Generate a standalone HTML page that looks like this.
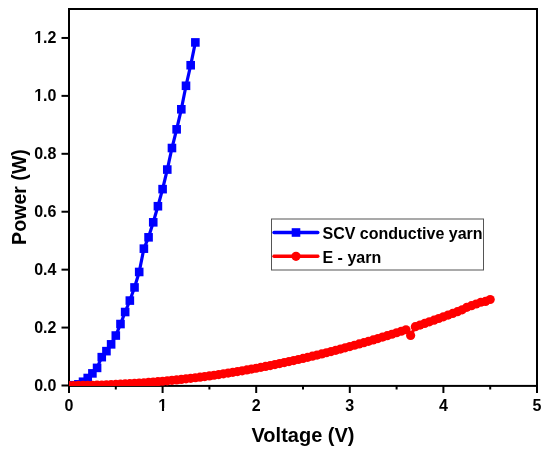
<!DOCTYPE html>
<html><head><meta charset="utf-8"><title>Power vs Voltage</title>
<style>html,body{margin:0;padding:0;background:#fff;width:550px;height:456px;overflow:hidden}svg{display:block}</style>
</head><body>
<svg width="550" height="456" viewBox="0 0 550 456">
<defs><clipPath id="c"><rect x="69" y="9" width="468" height="377"/></clipPath></defs>
<rect width="550" height="456" fill="#fff"/>
<g stroke="#000" stroke-width="2" fill="none">
<rect x="69.0" y="9.0" width="468.0" height="376.9"/>
<line x1="61.5" y1="385.50" x2="69.0" y2="385.50"/>
<line x1="61.5" y1="327.58" x2="69.0" y2="327.58"/>
<line x1="61.5" y1="269.65" x2="69.0" y2="269.65"/>
<line x1="61.5" y1="211.73" x2="69.0" y2="211.73"/>
<line x1="61.5" y1="153.81" x2="69.0" y2="153.81"/>
<line x1="61.5" y1="95.88" x2="69.0" y2="95.88"/>
<line x1="61.5" y1="37.96" x2="69.0" y2="37.96"/>
<line x1="69.00" y1="385.5" x2="69.00" y2="393"/>
<line x1="162.60" y1="385.5" x2="162.60" y2="393"/>
<line x1="256.20" y1="385.5" x2="256.20" y2="393"/>
<line x1="349.80" y1="385.5" x2="349.80" y2="393"/>
<line x1="443.40" y1="385.5" x2="443.40" y2="393"/>
<line x1="537.00" y1="385.5" x2="537.00" y2="393"/>
<line x1="115.80" y1="385.5" x2="115.80" y2="389.5"/>
<line x1="209.40" y1="385.5" x2="209.40" y2="389.5"/>
<line x1="303.00" y1="385.5" x2="303.00" y2="389.5"/>
<line x1="396.60" y1="385.5" x2="396.60" y2="389.5"/>
<line x1="490.20" y1="385.5" x2="490.20" y2="389.5"/>
</g>
<g clip-path="url(#c)">
<polyline points="69.00,385.50 73.68,385.21 78.36,384.34 83.04,381.74 87.72,378.00 92.40,373.39 97.08,367.89 101.76,357.15 106.44,351.15 111.12,344.35 115.80,335.54 120.48,324.04 125.16,312.02 129.84,300.58 134.52,287.44 139.20,271.97 143.88,248.66 148.56,237.33 153.24,222.33 157.92,206.23 162.60,189.14 167.28,169.56 171.96,148.02 176.64,129.34 181.32,109.29 186.00,85.78 190.68,65.24 195.36,42.42" fill="none" stroke="#0000ff" stroke-width="3.2" stroke-linejoin="round"/>
<g fill="#0000ff">
<rect x="64.70" y="381.20" width="8.6" height="8.6"/>
<rect x="69.38" y="380.91" width="8.6" height="8.6"/>
<rect x="74.06" y="380.04" width="8.6" height="8.6"/>
<rect x="78.74" y="377.44" width="8.6" height="8.6"/>
<rect x="83.42" y="373.70" width="8.6" height="8.6"/>
<rect x="88.10" y="369.09" width="8.6" height="8.6"/>
<rect x="92.78" y="363.59" width="8.6" height="8.6"/>
<rect x="97.46" y="352.85" width="8.6" height="8.6"/>
<rect x="102.14" y="346.85" width="8.6" height="8.6"/>
<rect x="106.82" y="340.05" width="8.6" height="8.6"/>
<rect x="111.50" y="331.24" width="8.6" height="8.6"/>
<rect x="116.18" y="319.74" width="8.6" height="8.6"/>
<rect x="120.86" y="307.72" width="8.6" height="8.6"/>
<rect x="125.54" y="296.28" width="8.6" height="8.6"/>
<rect x="130.22" y="283.14" width="8.6" height="8.6"/>
<rect x="134.90" y="267.67" width="8.6" height="8.6"/>
<rect x="139.58" y="244.36" width="8.6" height="8.6"/>
<rect x="144.26" y="233.03" width="8.6" height="8.6"/>
<rect x="148.94" y="218.03" width="8.6" height="8.6"/>
<rect x="153.62" y="201.93" width="8.6" height="8.6"/>
<rect x="158.30" y="184.84" width="8.6" height="8.6"/>
<rect x="162.98" y="165.26" width="8.6" height="8.6"/>
<rect x="167.66" y="143.72" width="8.6" height="8.6"/>
<rect x="172.34" y="125.04" width="8.6" height="8.6"/>
<rect x="177.02" y="104.99" width="8.6" height="8.6"/>
<rect x="181.70" y="81.48" width="8.6" height="8.6"/>
<rect x="186.38" y="60.94" width="8.6" height="8.6"/>
<rect x="191.06" y="38.12" width="8.6" height="8.6"/>
</g>
<polyline points="69.00,385.50 73.68,385.49 78.36,385.46 83.04,385.40 87.72,385.33 92.40,385.23 97.08,385.12 101.76,384.98 106.44,384.82 111.12,384.64 115.80,384.44 120.48,384.22 125.16,383.97 129.84,383.71 134.52,383.42 139.20,383.11 143.88,382.78 148.56,382.43 153.24,382.06 157.92,381.67 162.60,381.25 167.28,380.82 171.96,380.36 176.64,379.88 181.32,379.38 186.00,378.86 190.68,378.32 195.36,377.76 200.04,377.18 204.72,376.57 209.40,375.95 214.08,375.27 218.76,374.58 223.44,373.86 228.12,373.12 232.80,372.37 237.48,371.59 242.16,370.79 246.84,369.96 251.52,369.12 256.20,368.26 260.88,367.37 265.56,366.46 270.24,365.53 274.92,364.58 279.60,363.61 284.28,362.62 288.96,361.61 293.64,360.57 298.32,359.52 303.00,358.44 307.68,357.34 312.36,356.22 317.04,355.08 321.72,353.92 326.40,352.74 331.08,351.53 335.76,350.31 340.44,349.06 345.12,347.82 349.80,346.56 354.48,345.27 359.16,343.97 363.84,342.64 368.52,341.29 373.20,339.92 377.88,338.53 382.56,337.12 387.24,335.69 391.92,334.23 396.60,332.76 401.28,331.26 405.96,329.74 410.64,335.40 415.32,326.64 420.00,325.06 424.68,323.46 429.36,321.83 434.04,320.19 438.72,318.52 443.40,316.83 448.08,315.12 452.76,313.39 457.44,311.64 462.12,309.87 466.80,307.35 471.48,305.68 476.16,303.99 480.84,302.27 485.52,301.41 490.20,299.51" fill="none" stroke="#ff0000" stroke-width="3.2" stroke-linejoin="round"/>
<g fill="#ff0000">
<circle cx="69.00" cy="385.50" r="4.6"/>
<circle cx="73.68" cy="385.49" r="4.6"/>
<circle cx="78.36" cy="385.46" r="4.6"/>
<circle cx="83.04" cy="385.40" r="4.6"/>
<circle cx="87.72" cy="385.33" r="4.6"/>
<circle cx="92.40" cy="385.23" r="4.6"/>
<circle cx="97.08" cy="385.12" r="4.6"/>
<circle cx="101.76" cy="384.98" r="4.6"/>
<circle cx="106.44" cy="384.82" r="4.6"/>
<circle cx="111.12" cy="384.64" r="4.6"/>
<circle cx="115.80" cy="384.44" r="4.6"/>
<circle cx="120.48" cy="384.22" r="4.6"/>
<circle cx="125.16" cy="383.97" r="4.6"/>
<circle cx="129.84" cy="383.71" r="4.6"/>
<circle cx="134.52" cy="383.42" r="4.6"/>
<circle cx="139.20" cy="383.11" r="4.6"/>
<circle cx="143.88" cy="382.78" r="4.6"/>
<circle cx="148.56" cy="382.43" r="4.6"/>
<circle cx="153.24" cy="382.06" r="4.6"/>
<circle cx="157.92" cy="381.67" r="4.6"/>
<circle cx="162.60" cy="381.25" r="4.6"/>
<circle cx="167.28" cy="380.82" r="4.6"/>
<circle cx="171.96" cy="380.36" r="4.6"/>
<circle cx="176.64" cy="379.88" r="4.6"/>
<circle cx="181.32" cy="379.38" r="4.6"/>
<circle cx="186.00" cy="378.86" r="4.6"/>
<circle cx="190.68" cy="378.32" r="4.6"/>
<circle cx="195.36" cy="377.76" r="4.6"/>
<circle cx="200.04" cy="377.18" r="4.6"/>
<circle cx="204.72" cy="376.57" r="4.6"/>
<circle cx="209.40" cy="375.95" r="4.6"/>
<circle cx="214.08" cy="375.27" r="4.6"/>
<circle cx="218.76" cy="374.58" r="4.6"/>
<circle cx="223.44" cy="373.86" r="4.6"/>
<circle cx="228.12" cy="373.12" r="4.6"/>
<circle cx="232.80" cy="372.37" r="4.6"/>
<circle cx="237.48" cy="371.59" r="4.6"/>
<circle cx="242.16" cy="370.79" r="4.6"/>
<circle cx="246.84" cy="369.96" r="4.6"/>
<circle cx="251.52" cy="369.12" r="4.6"/>
<circle cx="256.20" cy="368.26" r="4.6"/>
<circle cx="260.88" cy="367.37" r="4.6"/>
<circle cx="265.56" cy="366.46" r="4.6"/>
<circle cx="270.24" cy="365.53" r="4.6"/>
<circle cx="274.92" cy="364.58" r="4.6"/>
<circle cx="279.60" cy="363.61" r="4.6"/>
<circle cx="284.28" cy="362.62" r="4.6"/>
<circle cx="288.96" cy="361.61" r="4.6"/>
<circle cx="293.64" cy="360.57" r="4.6"/>
<circle cx="298.32" cy="359.52" r="4.6"/>
<circle cx="303.00" cy="358.44" r="4.6"/>
<circle cx="307.68" cy="357.34" r="4.6"/>
<circle cx="312.36" cy="356.22" r="4.6"/>
<circle cx="317.04" cy="355.08" r="4.6"/>
<circle cx="321.72" cy="353.92" r="4.6"/>
<circle cx="326.40" cy="352.74" r="4.6"/>
<circle cx="331.08" cy="351.53" r="4.6"/>
<circle cx="335.76" cy="350.31" r="4.6"/>
<circle cx="340.44" cy="349.06" r="4.6"/>
<circle cx="345.12" cy="347.82" r="4.6"/>
<circle cx="349.80" cy="346.56" r="4.6"/>
<circle cx="354.48" cy="345.27" r="4.6"/>
<circle cx="359.16" cy="343.97" r="4.6"/>
<circle cx="363.84" cy="342.64" r="4.6"/>
<circle cx="368.52" cy="341.29" r="4.6"/>
<circle cx="373.20" cy="339.92" r="4.6"/>
<circle cx="377.88" cy="338.53" r="4.6"/>
<circle cx="382.56" cy="337.12" r="4.6"/>
<circle cx="387.24" cy="335.69" r="4.6"/>
<circle cx="391.92" cy="334.23" r="4.6"/>
<circle cx="396.60" cy="332.76" r="4.6"/>
<circle cx="401.28" cy="331.26" r="4.6"/>
<circle cx="405.96" cy="329.74" r="4.6"/>
<circle cx="410.64" cy="335.40" r="4.6"/>
<circle cx="415.32" cy="326.64" r="4.6"/>
<circle cx="420.00" cy="325.06" r="4.6"/>
<circle cx="424.68" cy="323.46" r="4.6"/>
<circle cx="429.36" cy="321.83" r="4.6"/>
<circle cx="434.04" cy="320.19" r="4.6"/>
<circle cx="438.72" cy="318.52" r="4.6"/>
<circle cx="443.40" cy="316.83" r="4.6"/>
<circle cx="448.08" cy="315.12" r="4.6"/>
<circle cx="452.76" cy="313.39" r="4.6"/>
<circle cx="457.44" cy="311.64" r="4.6"/>
<circle cx="462.12" cy="309.87" r="4.6"/>
<circle cx="466.80" cy="307.35" r="4.6"/>
<circle cx="471.48" cy="305.68" r="4.6"/>
<circle cx="476.16" cy="303.99" r="4.6"/>
<circle cx="480.84" cy="302.27" r="4.6"/>
<circle cx="485.52" cy="301.41" r="4.6"/>
<circle cx="490.20" cy="299.51" r="4.6"/>
</g></g>
<g font-family="Liberation Sans, Arial, sans-serif" font-weight="bold" font-size="16" fill="#000">
<text x="56.4" y="390.70" text-anchor="end">0.0</text>
<text x="56.4" y="332.78" text-anchor="end">0.2</text>
<text x="56.4" y="274.85" text-anchor="end">0.4</text>
<text x="56.4" y="216.93" text-anchor="end">0.6</text>
<text x="56.4" y="159.01" text-anchor="end">0.8</text>
<text x="56.4" y="101.08" text-anchor="end">1.0</text>
<text x="56.4" y="43.16" text-anchor="end">1.2</text>
<text x="69.00" y="410.5" text-anchor="middle">0</text>
<text x="162.60" y="410.5" text-anchor="middle">1</text>
<text x="256.20" y="410.5" text-anchor="middle">2</text>
<text x="349.80" y="410.5" text-anchor="middle">3</text>
<text x="443.40" y="410.5" text-anchor="middle">4</text>
<text x="537.00" y="410.5" text-anchor="middle">5</text>
</g>
<rect x="34.48" y="98.52" width="3.46" height="3.36" fill="#fff"/>
<rect x="40.05" y="98.52" width="3.07" height="3.36" fill="#fff"/>
<rect x="34.48" y="40.60" width="3.46" height="3.36" fill="#fff"/>
<rect x="40.05" y="40.60" width="3.07" height="3.36" fill="#fff"/>
<rect x="158.47" y="407.94" width="3.46" height="3.36" fill="#fff"/>
<rect x="164.04" y="407.94" width="3.07" height="3.36" fill="#fff"/>
<text font-family="Liberation Sans, Arial, sans-serif" font-weight="bold" font-size="20" x="303" y="441.8" text-anchor="middle">Voltage (V)</text>
<text font-family="Liberation Sans, Arial, sans-serif" font-weight="bold" font-size="19.6" transform="translate(26.4,197) rotate(-90)" text-anchor="middle">Power (W)</text>
<rect x="271.5" y="219" width="212" height="51" fill="#fff" stroke="#555" stroke-width="1"/>
<line x1="274" y1="232.5" x2="317.8" y2="232.5" stroke="#0000ff" stroke-width="3.4" stroke-linecap="round"/>
<rect x="291.7" y="228.2" width="8.6" height="8.6" fill="#0000ff"/>
<line x1="274" y1="256.3" x2="317.8" y2="256.3" stroke="#ff0000" stroke-width="3.4" stroke-linecap="round"/>
<circle cx="296" cy="256.3" r="4.6" fill="#ff0000"/>
<text font-family="Liberation Sans, Arial, sans-serif" font-weight="bold" font-size="16" x="322.5" y="239.1">SCV conductive yarn</text>
<text font-family="Liberation Sans, Arial, sans-serif" font-weight="bold" font-size="16" x="322.5" y="262.7">E - yarn</text>
</svg>
</body></html>
